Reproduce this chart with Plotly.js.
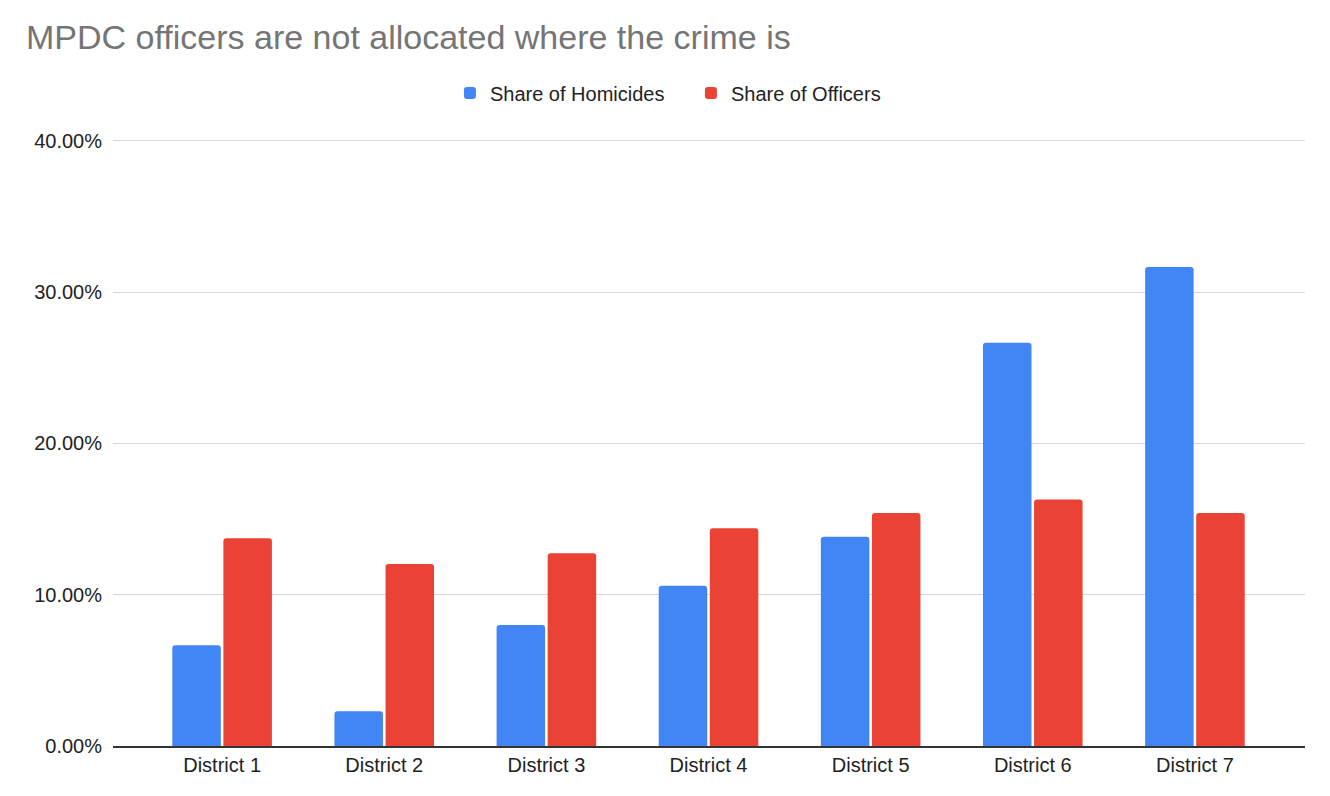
<!DOCTYPE html>
<html>
<head>
<meta charset="utf-8">
<script src="https://cdn.plot.ly/plotly-3.0.1.min.js"></script>
<style>
  html, body { margin: 0; padding: 0; background: #fff; }
  #chart { width: 1330px; height: 796px; }
</style>
</head>
<body>
<div id="chart"></div>
<script>
// Data (shares as fractions)
const districts = ['District 1', 'District 2', 'District 3', 'District 4', 'District 5', 'District 6', 'District 7'];
const homicideShare = [0.0666, 0.0229, 0.0800, 0.1060, 0.1384, 0.2666, 0.3166];
const officerShare = [0.1374, 0.1204, 0.1275, 0.1440, 0.1540, 0.1630, 0.1540];
const yTicks = [0, 0.1, 0.2, 0.3, 0.4];

const FONT = 'Liberation Sans, Arial, Helvetica, sans-serif';

const traces = [
  {
    type: 'bar',
    name: 'Share of Homicides',
    x: districts,
    y: homicideShare,
    marker: { color: '#4285F4' },
    hoverinfo: 'x+y'
  },
  {
    type: 'bar',
    name: 'Share of Officers',
    x: districts,
    y: officerShare,
    marker: { color: '#EA4335' },
    hoverinfo: 'x+y'
  }
];

const layout = {
  width: 1330,
  height: 796,
  paper_bgcolor: '#fff',
  plot_bgcolor: '#fff',
  font: { family: FONT, size: 20, color: '#222' },
  margin: { l: 113, r: 25, t: 139, b: 50 },
  title: {
    text: 'MPDC officers are not allocated where the crime is',
    font: { family: FONT, size: 34, color: '#757575' },
    xref: 'container', x: 26 / 1330, xanchor: 'left',
    yref: 'container', y: 1 - 37 / 796, yanchor: 'middle'
  },
  showlegend: true,
  legend: {
    orientation: 'h',
    xref: 'container', x: 0.5195, xanchor: 'center',
    yref: 'container', y: 1 - 93 / 796, yanchor: 'middle',
    font: { family: FONT, size: 20, color: '#222' },
    entrywidth: 196
  },
  barmode: 'group',
  bargap: 0.37,
  bargroupgap: 0.05,
  barcornerradius: 3,
  xaxis: {
    type: 'category',
    range: [-0.673, 6.679],
    showgrid: false,
    showline: true,
    linecolor: '#333',
    linewidth: 1.5,
    ticks: '',
    tickfont: { family: FONT, size: 20, color: '#222' },
    fixedrange: true
  },
  yaxis: {
    range: [0, 0.4013],
    tickvals: yTicks,
    tickformat: '.2%',
    showgrid: true,
    gridcolor: '#d6d6d6',
    gridwidth: 1,
    zeroline: false,
    showline: false,
    ticks: '',
    ticklabelstandoff: 10,
    tickfont: { family: FONT, size: 20, color: '#222' },
    fixedrange: true
  }
};

Plotly.newPlot('chart', traces, layout, { displayModeBar: false, staticPlot: true });
</script>
</body>
</html>
